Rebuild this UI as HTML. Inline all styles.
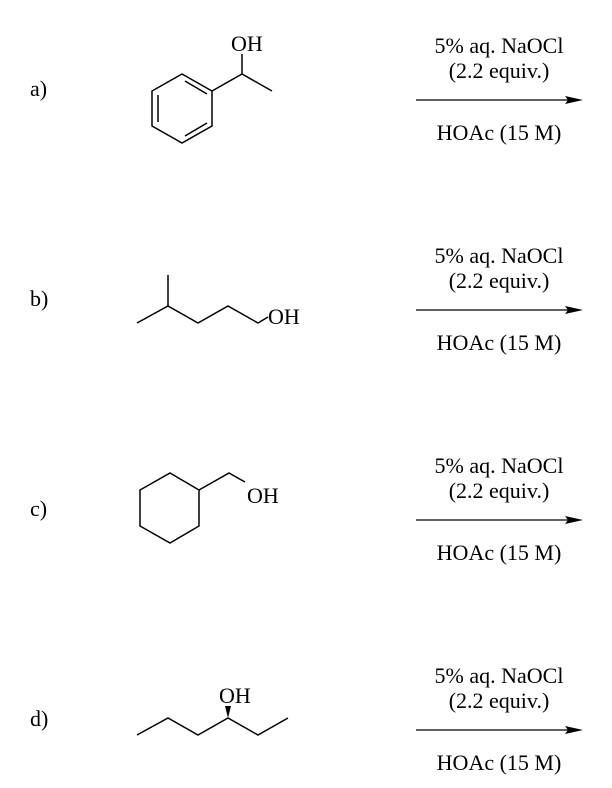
<!DOCTYPE html>
<html><head><meta charset="utf-8"><style>
body{margin:0;background:#fff}
svg{display:block}
text{font-family:"Liberation Serif",serif;font-size:22px;fill:#000}
</style></head><body>
<svg width="612" height="788" viewBox="0 0 612 788" xmlns="http://www.w3.org/2000/svg">
<g stroke="#000" stroke-width="1.5" fill="none" stroke-linejoin="miter">
<!-- a -->
<polygon points="182,74 212,91 212,126 182,143 152,126 152,91"/>
<line x1="158" y1="95" x2="158" y2="122"/>
<line x1="185" y1="81" x2="207" y2="94"/>
<line x1="185" y1="136" x2="207" y2="123"/>
<polyline points="212,91 242,74 272,91"/>
<line x1="242" y1="74" x2="242" y2="54"/>
<!-- b -->
<polyline points="137,323 168,306 198,323 228,306 258,323 268,317"/>
<line x1="168" y1="306" x2="168" y2="275"/>
<!-- c -->
<polygon points="170,473 199,490 199,526 170,543 140,526 140,490"/>
<polyline points="199,490 229,473 245,482"/>
<!-- d -->
<polyline points="137,735 168,718 198,735 228,718 258,735 288,718"/>
</g>
<polygon points="228,718 225,706 231,706" fill="#000"/>
<text x="231" y="51">OH</text>
<text x="268" y="324">OH</text>
<text x="247" y="503">OH</text>
<text x="219" y="703">OH</text>
<text x="30" y="96">a)</text>
<text x="30" y="306">b)</text>
<text x="30" y="516">c)</text>
<text x="30" y="726">d)</text>
<g id="r">
<text x="499" y="53" text-anchor="middle">5% aq. NaOCl</text>
<text x="499" y="78" text-anchor="middle">(2.2 equiv.)</text>
<text x="499" y="140" text-anchor="middle">HOAc (15 M)</text>
<line x1="416" y1="100" x2="570" y2="100" stroke="#000" stroke-width="1.3"/>
<polygon points="583,100 565,96 568,100 565,104" fill="#000"/>
</g>
<use href="#r" y="210"/>
<use href="#r" y="420"/>
<use href="#r" y="630"/>
</svg>
</body></html>
